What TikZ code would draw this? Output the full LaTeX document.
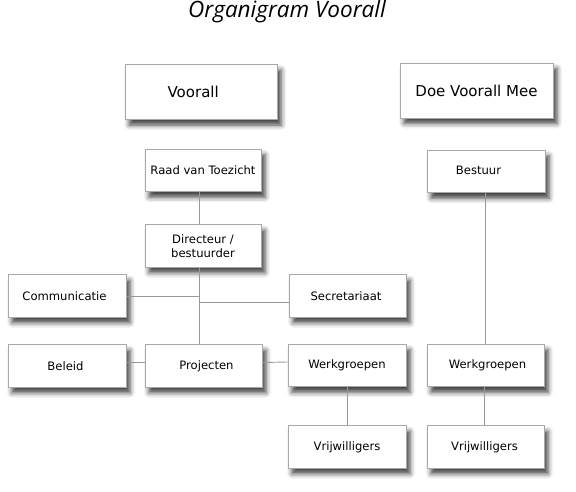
\documentclass[tikz,border=0pt]{standalone}
\usepackage{fontspec}
\setmainfont{DejaVu Sans}
\newfontfamily\titlefont{Open Sans}
\usetikzlibrary{shadows.blur,calc}
\definecolor{boxline}{HTML}{A8A8A8}
\definecolor{conline}{HTML}{999999}
\tikzset{
  orgbox/.style={draw=boxline, line width=0.9pt, fill=white, inner sep=0pt,
    minimum width=117pt, minimum height=42.5pt,
    font=\fontsize{11.6pt}{13.5pt}\selectfont, align=center,
    blur shadow={shadow xshift=4pt, shadow yshift=-5.5pt, shadow blur radius=5pt, shadow opacity=75}},
  bigbox/.style={orgbox, minimum width=152pt, minimum height=55pt,
    font=\fontsize{15pt}{18pt}\selectfont},
  conn/.style={draw=conline, line width=0.9pt}
}
\begin{document}
\begin{tikzpicture}[x=1pt,y=-1pt]
\useasboundingbox (0,0) rectangle (576,491);
\node[anchor=base, font=\titlefont\itshape\fontsize{22.5pt}{26pt}\selectfont] (title) at (287,17) {Organigram Voorall};
\coordinate (spine) at (199,0);
\coordinate (spineb) at (199,302);
\node[bigbox] (voorall) at (201.2,92) {\raisebox{-2pt}{\hspace*{-16pt}Voorall}};
\node[bigbox, minimum width=153pt] (doe) at (476.5,90.5) {Doe Voorall Mee};
\node[orgbox, minimum width=116pt] (raad) at (203,170.5) {Raad van Toezicht};
\node[orgbox, minimum width=118pt] (bestuur) at (486,171.5) {\raisebox{2pt}{\hspace*{-15pt}Bestuur}};
\node[orgbox, minimum width=116pt] (dir) at (203,246) {Directeur /\\bestuurder};
\node[orgbox, minimum width=118pt] (comm) at (67,296) {\hspace*{-5pt}Communicatie};
\node[orgbox] (secr) at (347.5,296) {\hspace*{-3pt}Secretariaat};
\node[orgbox, minimum width=118pt] (bel) at (67,366) {\hspace*{-3pt}Beleid};
\node[orgbox] (proj) at (203.5,366) {\hspace*{6pt}Projecten};
\node[orgbox, minimum width=118pt] (w1) at (347,365.5) {Werkgroepen};
\node[orgbox] (w2) at (485.5,365.5) {\hspace*{4pt}Werkgroepen};
\node[orgbox, minimum width=118pt] (v1) at (347,447) {Vrijwilligers};
\node[orgbox] (v2) at (485.5,447) {\raisebox{1pt}{\hspace*{-2pt}Vrijwilligers}};
\draw[conn] (raad.south -| spine) -- (dir.north -| spine);
\draw[conn] (dir.south -| spine) -- (proj.north -| spine);
\draw[conn] (comm.east) -- (comm.east -| spine);
\draw[conn] (spineb) -- (spineb -| secr.west);
\draw[conn] ($(bel.east)+(0,-4)$) -- ($(proj.west)+(0,-4)$);
\draw[conn] ($(proj.east)+(0,-3.5)$) -- ($(w1.west)+(0,-3.5)$);
\draw[conn] (w1.south) -- (v1.north);
\draw[conn] ($(bestuur.south)+(-1,0)$) -- ($(w2.north)+(-0.5,0)$);
\draw[conn] ($(w2.south)+(-1.5,0)$) -- ($(v2.north)+(-1.5,0)$);
\end{tikzpicture}
\end{document}
